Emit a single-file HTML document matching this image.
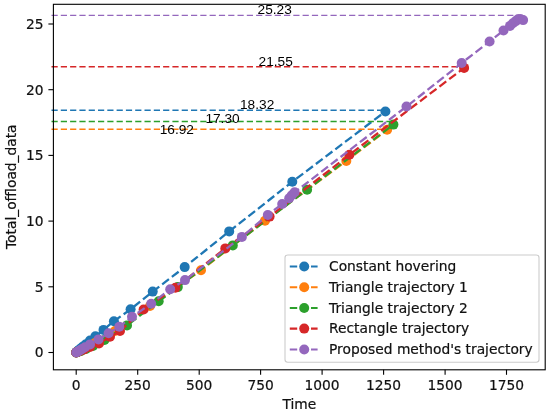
<!DOCTYPE html>
<html><head><meta charset="utf-8"><title>Total offload data vs Time</title>
<style>
html,body{margin:0;padding:0;background:#fff;}
svg{display:block}
.dv text{font-family:"DejaVu Sans","Liberation Sans",sans-serif;font-size:13.8px;fill:#111;stroke:#111;stroke-width:0.2px}
.an text{font-family:"Liberation Sans",Arial,sans-serif;font-size:13.7px;fill:#000}
</style></head><body>
<svg width="550" height="413" viewBox="0 0 550 413">
<rect width="550" height="413" fill="#fff"/>
<path d="M76.2,352.5 L76.5,352.2 L76.6,352.1 L76.8,352.0 L77.1,351.8 L77.4,351.5 L77.9,351.0 L78.6,350.4 L79.6,349.6 L81.0,348.3 L83.0,346.6 L85.9,344.2 L90.0,340.5 L95.4,336.3 L103.5,329.9 L113.9,321.2 L130.6,309.3 L152.7,291.6 L184.7,267.1 L229.2,231.4 L292.3,181.8 L385.4,111.5" fill="none" stroke="#1f77b4" stroke-width="2.3" stroke-dasharray="8.5 3.7"/>
<g fill="#1f77b4"><circle cx="76.2" cy="352.5" r="5"/><circle cx="76.5" cy="352.2" r="5"/><circle cx="76.6" cy="352.1" r="5"/><circle cx="76.8" cy="352.0" r="5"/><circle cx="77.1" cy="351.8" r="5"/><circle cx="77.4" cy="351.5" r="5"/><circle cx="77.9" cy="351.0" r="5"/><circle cx="78.6" cy="350.4" r="5"/><circle cx="79.6" cy="349.6" r="5"/><circle cx="81.0" cy="348.3" r="5"/><circle cx="83.0" cy="346.6" r="5"/><circle cx="85.9" cy="344.2" r="5"/><circle cx="90.0" cy="340.5" r="5"/><circle cx="95.4" cy="336.3" r="5"/><circle cx="103.5" cy="329.9" r="5"/><circle cx="113.9" cy="321.2" r="5"/><circle cx="130.6" cy="309.3" r="5"/><circle cx="152.7" cy="291.6" r="5"/><circle cx="184.7" cy="267.1" r="5"/><circle cx="229.2" cy="231.4" r="5"/><circle cx="292.3" cy="181.8" r="5"/><circle cx="385.4" cy="111.5" r="5"/></g>
<path d="M51.5,110.3 H385.4" fill="none" stroke="#1f77b4" stroke-width="1.4" stroke-dasharray="6.2 3.1"/>
<path d="M76.2,352.5 L77.5,352.0 L80.0,351.0 L85.0,348.5 L95.0,343.0 L115.0,331.0 L150.0,306.0 L201.0,270.2 L265.0,220.8 L346.3,161.0 L387.1,129.8" fill="none" stroke="#ff7f0e" stroke-width="2.3" stroke-dasharray="8.5 3.7"/>
<g fill="#ff7f0e"><circle cx="76.2" cy="352.5" r="5"/><circle cx="77.5" cy="352.0" r="5"/><circle cx="80.0" cy="351.0" r="5"/><circle cx="85.0" cy="348.5" r="5"/><circle cx="95.0" cy="343.0" r="5"/><circle cx="115.0" cy="331.0" r="5"/><circle cx="150.0" cy="306.0" r="5"/><circle cx="201.0" cy="270.2" r="5"/><circle cx="265.0" cy="220.8" r="5"/><circle cx="346.3" cy="161.0" r="5"/><circle cx="387.1" cy="129.8" r="5"/></g>
<path d="M51.5,129.2 H387.1" fill="none" stroke="#ff7f0e" stroke-width="1.4" stroke-dasharray="6.2 3.1"/>
<path d="M76.2,352.5 L78.0,352.0 L81.0,351.0 L86.0,349.0 L93.0,346.0 L104.5,340.0 L127.0,325.4 L158.7,301.3 L177.8,287.1 L232.8,245.4 L307.1,189.7 L393.4,124.6" fill="none" stroke="#2ca02c" stroke-width="2.3" stroke-dasharray="8.5 3.7"/>
<g fill="#2ca02c"><circle cx="76.2" cy="352.5" r="5"/><circle cx="78.0" cy="352.0" r="5"/><circle cx="81.0" cy="351.0" r="5"/><circle cx="86.0" cy="349.0" r="5"/><circle cx="93.0" cy="346.0" r="5"/><circle cx="104.5" cy="340.0" r="5"/><circle cx="127.0" cy="325.4" r="5"/><circle cx="158.7" cy="301.3" r="5"/><circle cx="177.8" cy="287.1" r="5"/><circle cx="232.8" cy="245.4" r="5"/><circle cx="307.1" cy="189.7" r="5"/><circle cx="393.4" cy="124.6" r="5"/></g>
<path d="M51.5,121.5 H393.4" fill="none" stroke="#2ca02c" stroke-width="1.4" stroke-dasharray="6.2 3.1"/>
<path d="M76.2,352.5 L77.5,352.0 L80.0,351.0 L84.0,349.5 L90.0,347.0 L99.0,343.5 L110.0,336.8 L120.0,331.0 L143.6,309.5 L175.4,287.7 L225.3,248.4 L269.6,216.6 L349.4,154.8 L464.1,67.9" fill="none" stroke="#d62728" stroke-width="2.3" stroke-dasharray="8.5 3.7"/>
<g fill="#d62728"><circle cx="76.2" cy="352.5" r="5"/><circle cx="77.5" cy="352.0" r="5"/><circle cx="80.0" cy="351.0" r="5"/><circle cx="84.0" cy="349.5" r="5"/><circle cx="90.0" cy="347.0" r="5"/><circle cx="99.0" cy="343.5" r="5"/><circle cx="110.0" cy="336.8" r="5"/><circle cx="120.0" cy="331.0" r="5"/><circle cx="143.6" cy="309.5" r="5"/><circle cx="175.4" cy="287.7" r="5"/><circle cx="225.3" cy="248.4" r="5"/><circle cx="269.6" cy="216.6" r="5"/><circle cx="349.4" cy="154.8" r="5"/><circle cx="464.1" cy="67.9" r="5"/></g>
<path d="M51.5,66.7 H464.1" fill="none" stroke="#d62728" stroke-width="1.4" stroke-dasharray="6.2 3.1"/>
<path d="M76.2,352.5 L77.3,351.9 L78.5,351.2 L80.0,350.3 L82.0,349.0 L85.0,347.3 L90.0,344.4 L98.5,339.4 L108.6,333.2 L119.3,326.8 L132.0,316.8 L151.2,303.7 L170.2,289.2 L185.0,280.1 L241.9,236.9 L267.8,215.0 L282.2,204.0 L289.2,198.2 L291.8,195.3 L294.6,192.3 L406.5,106.5 L461.7,63.0 L489.6,41.5 L503.5,30.5 L510.0,25.9 L512.9,23.3 L515.8,21.1 L518.0,19.2 L520.2,18.9 L523.1,20.1" fill="none" stroke="#9467bd" stroke-width="2.3" stroke-dasharray="8.5 3.7"/>
<g fill="#9467bd"><circle cx="76.2" cy="352.5" r="5"/><circle cx="77.3" cy="351.9" r="5"/><circle cx="78.5" cy="351.2" r="5"/><circle cx="80.0" cy="350.3" r="5"/><circle cx="82.0" cy="349.0" r="5"/><circle cx="85.0" cy="347.3" r="5"/><circle cx="90.0" cy="344.4" r="5"/><circle cx="98.5" cy="339.4" r="5"/><circle cx="108.6" cy="333.2" r="5"/><circle cx="119.3" cy="326.8" r="5"/><circle cx="132.0" cy="316.8" r="5"/><circle cx="151.2" cy="303.7" r="5"/><circle cx="170.2" cy="289.2" r="5"/><circle cx="185.0" cy="280.1" r="5"/><circle cx="241.9" cy="236.9" r="5"/><circle cx="267.8" cy="215.0" r="5"/><circle cx="282.2" cy="204.0" r="5"/><circle cx="289.2" cy="198.2" r="5"/><circle cx="291.8" cy="195.3" r="5"/><circle cx="294.6" cy="192.3" r="5"/><circle cx="406.5" cy="106.5" r="5"/><circle cx="461.7" cy="63.0" r="5"/><circle cx="489.6" cy="41.5" r="5"/><circle cx="503.5" cy="30.5" r="5"/><circle cx="510.0" cy="25.9" r="5"/><circle cx="512.9" cy="23.3" r="5"/><circle cx="515.8" cy="21.1" r="5"/><circle cx="518.0" cy="19.2" r="5"/><circle cx="520.2" cy="18.9" r="5"/><circle cx="523.1" cy="20.1" r="5"/></g>
<path d="M51.5,15.4 H519" fill="none" stroke="#9467bd" stroke-width="1.4" stroke-dasharray="6.2 3.1"/>
<rect x="53.4" y="4.3" width="491.8" height="365.5" fill="none" stroke="#000" stroke-width="1.1"/>
<g class="dv">
<path d="M76.2,369.8 v5" stroke="#000" stroke-width="1.1"/>
<text x="76.2" y="390" text-anchor="middle">0</text>
<path d="M137.7,369.8 v5" stroke="#000" stroke-width="1.1"/>
<text x="137.7" y="390" text-anchor="middle">250</text>
<path d="M199.2,369.8 v5" stroke="#000" stroke-width="1.1"/>
<text x="199.2" y="390" text-anchor="middle">500</text>
<path d="M260.6,369.8 v5" stroke="#000" stroke-width="1.1"/>
<text x="260.6" y="390" text-anchor="middle">750</text>
<path d="M322.1,369.8 v5" stroke="#000" stroke-width="1.1"/>
<text x="322.1" y="390" text-anchor="middle">1000</text>
<path d="M383.6,369.8 v5" stroke="#000" stroke-width="1.1"/>
<text x="383.6" y="390" text-anchor="middle">1250</text>
<path d="M445.1,369.8 v5" stroke="#000" stroke-width="1.1"/>
<text x="445.1" y="390" text-anchor="middle">1500</text>
<path d="M506.5,369.8 v5" stroke="#000" stroke-width="1.1"/>
<text x="506.5" y="390" text-anchor="middle">1750</text>
<path d="M53.4,352.5 h-5" stroke="#000" stroke-width="1.1"/>
<text x="43.5" y="357.4" text-anchor="end">0</text>
<path d="M53.4,286.8 h-5" stroke="#000" stroke-width="1.1"/>
<text x="43.5" y="291.7" text-anchor="end">5</text>
<path d="M53.4,221.1 h-5" stroke="#000" stroke-width="1.1"/>
<text x="43.5" y="226.0" text-anchor="end">10</text>
<path d="M53.4,155.4 h-5" stroke="#000" stroke-width="1.1"/>
<text x="43.5" y="160.3" text-anchor="end">15</text>
<path d="M53.4,89.7 h-5" stroke="#000" stroke-width="1.1"/>
<text x="43.5" y="94.6" text-anchor="end">20</text>
<path d="M53.4,24.0 h-5" stroke="#000" stroke-width="1.1"/>
<text x="43.5" y="28.9" text-anchor="end">25</text>
<text x="299.3" y="409" text-anchor="middle">Time</text>
<text transform="translate(15.5,186.7) rotate(-90)" text-anchor="middle">Total_offload_data</text>
</g>
<g class="an">
<text x="257.6" y="14.2">25.23</text>
<text x="258.6" y="66.1">21.55</text>
<text x="240" y="109.2">18.32</text>
<text x="205.4" y="122.7">17.30</text>
<text x="159.7" y="134.4">16.92</text>
</g>
<rect x="285" y="255" width="254" height="107.3" rx="2.7" fill="#fff" fill-opacity="0.8" stroke="#ccc" stroke-width="1.1"/>
<g class="dv">
<path d="M289.8,266.5 h27.8" stroke="#1f77b4" stroke-width="2.1" stroke-dasharray="7.4 3.2" fill="none"/><circle cx="304.2" cy="266.5" r="5" fill="#1f77b4"/><text x="329" y="271.3">Constant hovering</text>
<path d="M289.8,287.3 h27.8" stroke="#ff7f0e" stroke-width="2.1" stroke-dasharray="7.4 3.2" fill="none"/><circle cx="304.2" cy="287.3" r="5" fill="#ff7f0e"/><text x="329" y="292.1">Triangle trajectory 1</text>
<path d="M289.8,308 h27.8" stroke="#2ca02c" stroke-width="2.1" stroke-dasharray="7.4 3.2" fill="none"/><circle cx="304.2" cy="308" r="5" fill="#2ca02c"/><text x="329" y="312.8">Triangle trajectory 2</text>
<path d="M289.8,328.6 h27.8" stroke="#d62728" stroke-width="2.1" stroke-dasharray="7.4 3.2" fill="none"/><circle cx="304.2" cy="328.6" r="5" fill="#d62728"/><text x="329" y="333.4">Rectangle trajectory</text>
<path d="M289.8,349.5 h27.8" stroke="#9467bd" stroke-width="2.1" stroke-dasharray="7.4 3.2" fill="none"/><circle cx="304.2" cy="349.5" r="5" fill="#9467bd"/><text x="329" y="354.3">Proposed method's trajectory</text>
</g>
</svg>
</body></html>
